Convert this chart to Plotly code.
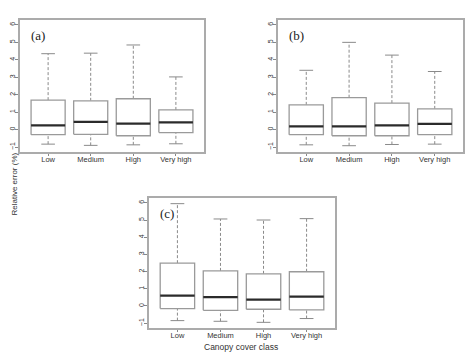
import plotly.graph_objects as go

categories = ["Low", "Medium", "High", "Very high"]
y_ticks = [-1, 0, 1, 2, 3, 4, 5, 6]

a_upper = [4.35, 4.38, 4.85, 3.02]
a_q3 = [1.69, 1.65, 1.77, 1.13]
a_med = [0.25, 0.44, 0.35, 0.42]
a_q1 = [-0.29, -0.27, -0.35, -0.17]
a_lower = [-0.83, -0.90, -0.87, -0.81]

b_upper = [3.40, 5.00, 4.27, 3.33]
b_q3 = [1.42, 1.83, 1.52, 1.19]
b_med = [0.19, 0.19, 0.25, 0.33]
b_q1 = [-0.29, -0.35, -0.35, -0.29]
b_lower = [-0.87, -0.92, -0.85, -0.83]

c_upper = [5.95, 5.06, 5.00, 5.08]
c_q3 = [2.49, 2.04, 1.87, 1.99]
c_med = [0.60, 0.52, 0.37, 0.54]
c_q1 = [-0.15, -0.25, -0.19, -0.23]
c_lower = [-0.85, -0.89, -0.95, -0.73]

panels = [
    ("(a)", "x", "y", a_lower, a_q1, a_med, a_q3, a_upper),
    ("(b)", "x2", "y2", b_lower, b_q1, b_med, b_q3, b_upper),
    ("(c)", "x3", "y3", c_lower, c_q1, c_med, c_q3, c_upper),
]

HW = 0.4   # half box width
CW = 0.16  # half cap width
BOX_COL = "#9a9a9a"
WHISK_COL = "#8a8a8a"
MED_COL = "#2b2b2b"

fig = go.Figure()
for label, xa, ya, lo, q1, med, q3, up in panels:
    pos = list(range(1, len(categories) + 1))
    # whiskers (dashed)
    wx, wy = [], []
    for p, l, a, b, u in zip(pos, lo, q1, q3, up):
        wx += [p, p, None, p, p, None]
        wy += [b, u, None, l, a, None]
    fig.add_trace(go.Scatter(x=wx, y=wy, xaxis=xa, yaxis=ya, mode="lines",
                             line=dict(color=WHISK_COL, width=1, dash="3px,2px"),
                             hoverinfo="skip", showlegend=False))
    # caps
    cx, cy = [], []
    for p, l, u in zip(pos, lo, up):
        cx += [p - CW, p + CW, None, p - CW, p + CW, None]
        cy += [u, u, None, l, l, None]
    fig.add_trace(go.Scatter(x=cx, y=cy, xaxis=xa, yaxis=ya, mode="lines",
                             line=dict(color=WHISK_COL, width=1),
                             hoverinfo="skip", showlegend=False))
    # boxes
    for p, a, b in zip(pos, q1, q3):
        fig.add_trace(go.Scatter(x=[p - HW, p + HW, p + HW, p - HW, p - HW],
                                 y=[a, a, b, b, a], xaxis=xa, yaxis=ya,
                                 mode="lines", fill="toself", fillcolor="white",
                                 line=dict(color=BOX_COL, width=1.3),
                                 hoverinfo="skip", showlegend=False))
    # medians
    mx, my = [], []
    for p, m in zip(pos, med):
        mx += [p - HW, p + HW, None]
        my += [m, m, None]
    fig.add_trace(go.Scatter(x=mx, y=my, xaxis=xa, yaxis=ya, mode="lines",
                             line=dict(color=MED_COL, width=2.3),
                             hoverinfo="skip", showlegend=False))
    fig.add_annotation(x=0.55, y=5.38, xref=xa, yref=ya, text=label,
                       showarrow=False, xanchor="left", yanchor="middle",
                       font=dict(family="Liberation Serif", size=13, color="#222"))

xdoms = [[20 / 474, 204 / 474], [278 / 474, 463 / 474], [149 / 474, 335 / 474]]
ydoms = [[1 - 152 / 355, 1 - 20 / 355], [1 - 152 / 355, 1 - 20 / 355],
         [1 - 328 / 355, 1 - 198 / 355]]

layout = dict(width=474, height=355, margin=dict(l=0, r=0, t=0, b=0),
              paper_bgcolor="white", plot_bgcolor="white", showlegend=False,
              font=dict(family="Liberation Sans", color="#333"))
names = [("xaxis", "yaxis", "y", "x"), ("xaxis2", "yaxis2", "y2", "x2"),
         ("xaxis3", "yaxis3", "y3", "x3")]
for (xn, yn, yanc, xanc), xd, yd in zip(names, xdoms, ydoms):
    layout[xn] = dict(domain=xd, anchor=yanc, range=[0.34, 4.66],
                      automargin=False,
                      tickvals=list(range(1, len(categories) + 1)),
                      ticktext=categories, ticks="outside", ticklen=2,
                      tickcolor="#888", showgrid=False, zeroline=False,
                      showline=True, mirror=True, linecolor="#ababab",
                      linewidth=1.5, ticklabelstandoff=-3,
                      tickfont=dict(size=7.5, color="#333"))
    layout[yn] = dict(domain=yd, anchor=xanc, range=[-1.28, 6.28],
                      automargin=False,
                      tickvals=y_ticks, ticks="outside", ticklen=3,
                      tickcolor="#888", tickangle=-90, showgrid=False,
                      zeroline=False, showline=True, mirror=True,
                      linecolor="#ababab", linewidth=1.5,
                      ticklabelstandoff=-3,
                      tickfont=dict(size=7, color="#333"))
fig.update_layout(**layout)

fig.add_annotation(x=7 / 474, y=1 - 184 / 355, xref="paper", yref="paper",
                   text="Relative error (%)", textangle=-90, showarrow=False,
                   font=dict(size=8, color="#333"))
fig.add_annotation(x=241 / 474, y=1 - 347 / 355, xref="paper", yref="paper",
                   yanchor="middle",
                   text="Canopy cover class", showarrow=False,
                   font=dict(size=8.5, color="#333"))

fig.write_html("out.html", config={"displayModeBar": False},
               post_script="document.body.style.margin='0';"
                           "document.body.style.overflow='hidden';")
